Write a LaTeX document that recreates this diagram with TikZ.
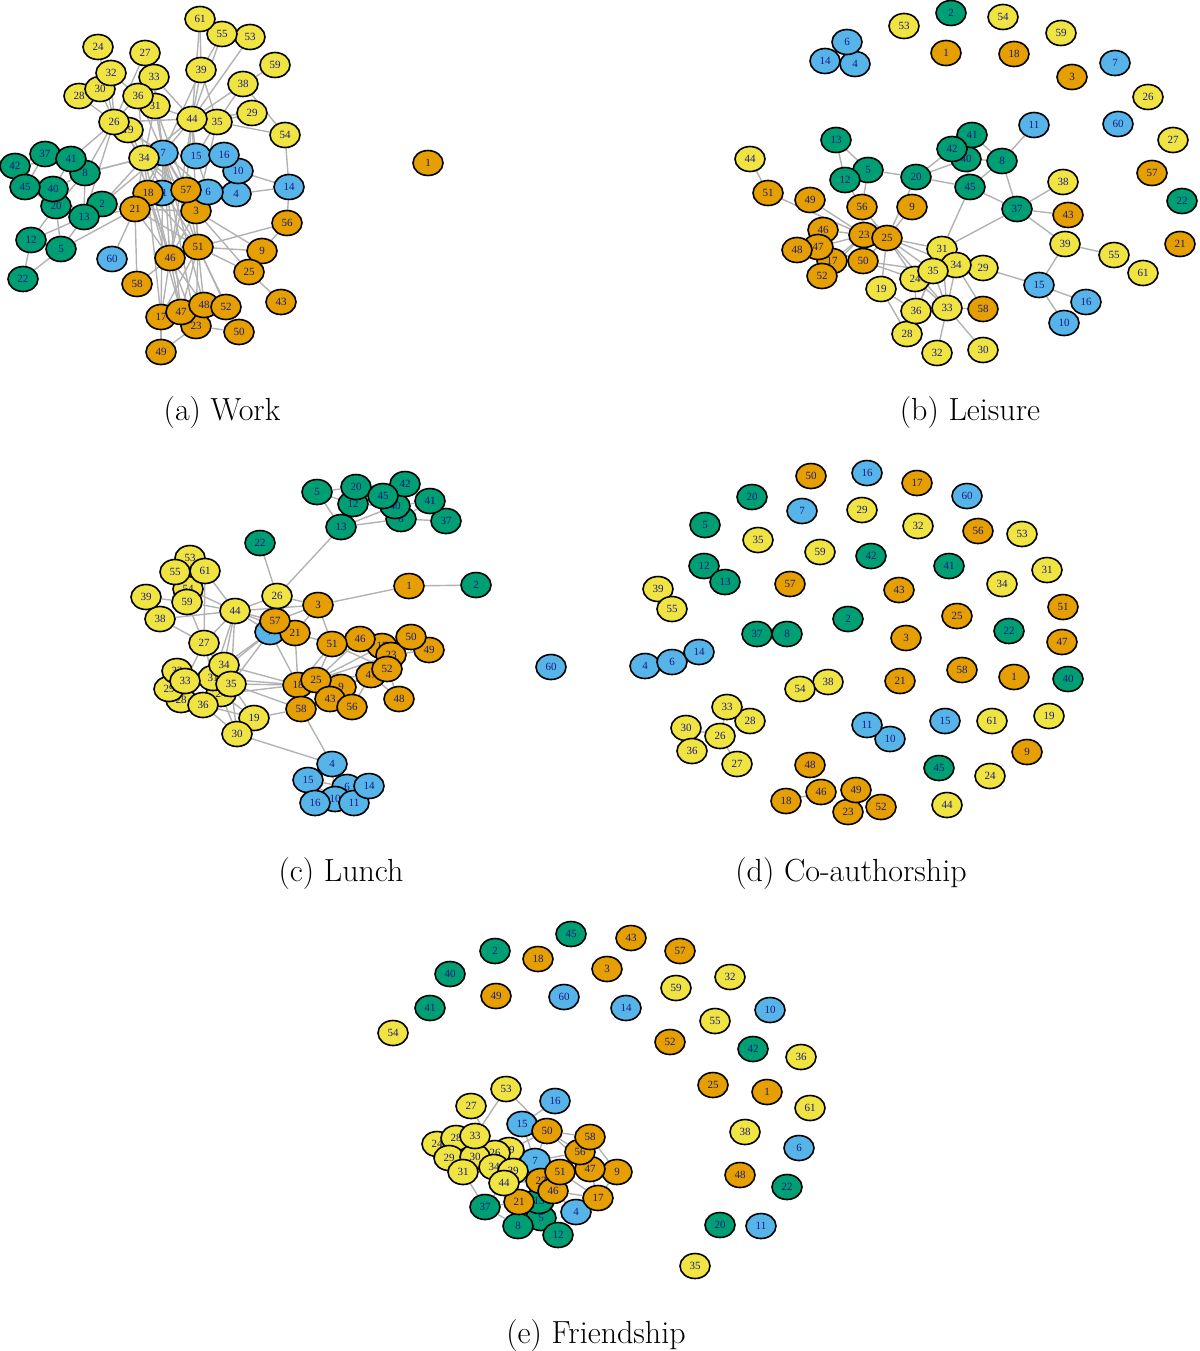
\documentclass[tikz,border=0pt]{standalone}
\usepackage{fontspec}
\usetikzlibrary{shapes.geometric}
\newfontfamily\lblfont{Liberation Serif}
\definecolor{cY}{HTML}{F0E442}
\definecolor{cO}{HTML}{E69F00}
\definecolor{cG}{HTML}{009E73}
\definecolor{cB}{HTML}{56B4E9}
\definecolor{lab}{RGB}{25,25,130}
\definecolor{edgec}{RGB}{178,178,178}
\pgfdeclarelayer{bg}
\pgfsetlayers{bg,main}
\tikzset{
 vtx/.style={ellipse, draw=black, line width=0.8pt, minimum width=15pt, minimum height=12.5pt, inner sep=0pt, text=lab, font=\lblfont\fontsize{5.5}{6}\selectfont},
 Y/.style={fill=cY}, O/.style={fill=cO}, G/.style={fill=cG}, B/.style={fill=cB},
 lnk/.style={draw=edgec, line width=0.7pt},
 captxt/.style={font=\fontsize{16}{19}\selectfont}
}
\begin{document}
\begin{tikzpicture}[x=0.5pt,y=-0.5pt]
\useasboundingbox (0,0) rectangle (1200,1351);
% ---------------- panel a
\foreach \n/\x/\y/\k in {1/428/163/O, 2/102/204/G, 3/196/211/O, 4/236/194/B, 5/61/249/G, 6/208/192/B, 7/163/153/B, 8/85/173/G, 9/262/251/O, 10/238/171/B, 11/162/193/B, 12/31/240/G, 13/84/217/G, 14/289/187/B, 15/196/156/B, 16/224/155/B, 17/161/317/O, 18/148/193/O, 19/128/130/Y, 20/56/206/G, 21/135/209/O, 22/23/279/G, 23/196/326/O, 24/98/47/Y, 25/249/272/O, 26/114/122/Y, 27/145/53/Y, 28/79/96/Y, 29/252/113/Y, 30/100/89/Y, 31/155/106/Y, 32/111/73/Y, 33/154/77/Y, 34/144/158/Y, 35/217/122/Y, 36/138/96/Y, 37/45/154/G, 38/243/84/Y, 39/201/70/Y, 40/53/189/G, 41/71/159/G, 42/15/166/G, 43/281/302/O, 44/192/119/Y, 45/25/187/G, 46/170/258/O, 47/181/312/O, 48/204/305/O, 49/161/352/O, 50/239/332/O, 51/198/247/O, 52/226/307/O, 53/250/37/Y, 54/285/135/Y, 55/222/34/Y, 56/287/223/O, 57/186/190/O, 58/137/284/O, 59/275/65/Y, 60/112/259/B, 61/200/19/Y}
  \node[vtx,\k] (a\n) at (\x,\y) {\n};
\begin{pgfonlayer}{bg}
\foreach \u/\w in {61/39, 61/44, 55/39, 55/44, 53/44, 24/26, 27/33, 27/26, 32/30, 32/36, 32/26, 30/28, 30/26, 28/26, 33/36, 33/31, 33/44, 33/7, 36/31, 36/26, 36/34, 36/7, 31/44, 31/7, 31/34, 31/57, 39/44, 39/7, 39/35, 38/44, 38/59, 38/54, 38/35, 29/44, 29/35, 44/35, 44/7, 44/15, 44/34, 44/26, 44/57, 44/51, 44/46, 35/54, 35/15, 35/3, 54/14, 26/19, 26/34, 26/7, 26/41, 26/8, 26/13, 19/34, 19/7, 19/46, 37/41, 37/42, 37/45, 37/8, 41/8, 41/40, 41/42, 42/45, 42/40, 45/40, 45/20, 40/20, 40/8, 40/13, 8/20, 8/13, 8/34, 8/7, 20/13, 20/12, 20/5, 13/2, 13/12, 13/5, 13/21, 2/7, 2/21, 2/34, 12/5, 12/22, 5/22, 5/21, 34/7, 34/18, 34/21, 34/46, 34/51, 34/3, 34/57, 7/15, 7/6, 7/57, 7/11, 7/18, 7/3, 7/51, 7/46, 7/47, 7/17, 7/48, 7/23, 7/21, 15/16, 15/6, 16/10, 10/4, 10/14, 6/4, 4/14, 6/57, 6/3, 14/56, 56/9, 56/51, 3/51, 3/46, 3/9, 3/25, 3/21, 57/51, 57/46, 57/3, 18/46, 18/21, 18/51, 18/47, 18/17, 21/60, 21/58, 21/46, 21/51, 51/46, 51/9, 51/25, 51/48, 51/52, 51/47, 51/23, 51/17, 51/50, 9/25, 25/43, 46/58, 46/17, 46/47, 46/48, 46/23, 17/47, 17/49, 47/48, 47/23, 48/52, 48/23, 23/50, 23/49}
  \draw[lnk] (a\u) -- (a\w);
\end{pgfonlayer}
% ---------------- panel b
\foreach \n/\x/\y/\k in {1/946/53/O, 2/951/13/G, 3/1072/77/O, 4/855/64/B, 5/868/170/G, 6/847/42/B, 7/1115/63/B, 8/1002/161/G, 9/912/207/O, 10/1064/323/B, 11/1034/125/B, 12/845/180/G, 13/836/140/G, 14/825/61/B, 15/1039/285/B, 16/1086/302/B, 17/832/261/O, 18/1014/54/O, 19/881/289/Y, 20/916/177/G, 21/1180/244/O, 22/1182/201/G, 23/864/235/O, 24/915/279/Y, 25/887/238/O, 26/1148/97/Y, 27/1173/140/Y, 28/907/334/Y, 29/983/268/Y, 30/983/350/Y, 31/942/249/Y, 32/937/353/Y, 33/947/308/Y, 34/956/265/Y, 35/933/271/Y, 36/916/311/Y, 37/1017/209/G, 38/1063/182/Y, 39/1065/244/Y, 40/966/159/G, 41/972/135/G, 42/952/149/G, 43/1068/215/O, 44/750/159/Y, 45/970/187/G, 46/823/230/O, 47/818/247/O, 48/797/250/O, 49/810/200/O, 50/863/261/O, 51/768/193/O, 52/822/276/O, 53/904/26/Y, 54/1003/17/Y, 55/1114/255/Y, 56/862/207/O, 57/1152/173/O, 58/983/309/O, 59/1061/33/Y, 60/1118/124/B, 61/1143/273/Y}
  \node[vtx,\k] (b\n) at (\x,\y) {\n};
\begin{pgfonlayer}{bg}
\foreach \u/\w in {14/4, 6/4, 13/5, 13/12, 5/12, 5/20, 5/56, 12/56, 20/42, 20/40, 20/45, 20/25, 42/41, 42/40, 40/41, 40/45, 40/8, 41/8, 8/45, 8/11, 8/37, 45/37, 45/31, 37/31, 37/38, 37/43, 37/39, 39/55, 39/15, 15/16, 15/10, 15/29, 44/51, 51/23, 49/23, 56/23, 56/25, 9/25, 46/23, 46/47, 46/48, 47/23, 47/48, 47/17, 48/17, 52/17, 52/23, 17/23, 50/23, 47/50, 23/25, 25/50, 25/31, 25/35, 25/34, 25/24, 25/19, 25/33, 50/35, 50/24, 35/34, 35/31, 35/24, 35/33, 35/36, 34/33, 34/31, 24/33, 33/36, 33/32, 33/30, 33/58, 19/28, 19/36, 36/28, 31/33, 34/29, 24/36, 35/28, 34/58}
  \draw[lnk] (b\u) -- (b\w);
\end{pgfonlayer}
% ---------------- panel c
\foreach \n/\x/\y/\k in {1/409/586/O, 2/476/585/G, 3/318/605/O, 4/332/764/B, 5/317/492/G, 6/347/787/B, 7/270/632/B, 8/401/519/G, 9/341/687/O, 10/335/799/B, 11/354/803/B, 12/353/504/G, 13/341/527/G, 14/369/786/B, 15/308/780/B, 16/315/803/B, 17/382/646/O, 18/298/685/O, 19/254/718/Y, 20/356/487/G, 21/295/633/O, 22/260/543/G, 23/391/655/O, 24/221/694/Y, 25/316/680/O, 26/277/596/Y, 27/204/643/Y, 28/181/700/Y, 29/169/689/Y, 30/237/734/Y, 31/213/678/Y, 32/177/671/Y, 33/185/681/Y, 34/224/665/Y, 35/231/684/Y, 36/203/705/Y, 37/446/521/G, 38/160/619/Y, 39/146/597/Y, 40/395/506/G, 41/430/501/G, 42/405/484/G, 43/330/699/O, 44/235/611/Y, 45/383/496/G, 46/360/639/O, 47/371/675/O, 48/399/699/O, 49/429/650/O, 50/411/637/O, 51/332/644/O, 52/387/669/O, 53/190/558/Y, 54/188/589/Y, 55/175/572/Y, 56/352/707/O, 57/275/621/O, 58/301/709/O, 59/187/602/Y, 60/551/667/B, 61/205/571/Y}
  \node[vtx,\k] (c\n) at (\x,\y) {\n};
\begin{pgfonlayer}{bg}
\foreach \u/\w in {5/12, 5/13, 5/20, 20/12, 20/45, 20/42, 45/42, 45/40, 45/12, 42/41, 40/8, 40/41, 41/37, 8/37, 13/12, 13/8, 13/40, 12/40, 41/8, 42/37, 13/26, 22/26, 1/3, 1/2, 3/26, 3/57, 3/21, 3/51, 3/44, 44/26, 44/38, 44/59, 44/54, 44/61, 44/27, 44/7, 44/57, 44/21, 44/34, 44/31, 55/61, 53/61, 54/61, 61/27, 59/27, 39/59, 38/27, 27/34, 27/31, 27/33, 27/35, 26/7, 26/57, 26/21, 57/21, 21/51, 21/18, 7/18, 7/34, 7/35, 7/31, 44/35, 35/18, 31/18, 34/18, 24/18, 35/58, 18/25, 18/58, 18/51, 25/51, 25/46, 25/17, 25/9, 25/43, 25/47, 25/23, 51/46, 51/17, 51/23, 51/52, 46/17, 46/23, 17/23, 17/50, 50/49, 23/49, 23/50, 47/52, 52/23, 48/52, 48/47, 56/43, 56/47, 43/9, 9/52, 58/19, 58/4, 19/35, 19/36, 19/24, 30/36, 30/24, 30/4, 30/35, 32/33, 29/28, 33/36, 33/31, 28/36, 29/33, 24/36, 31/35, 34/35, 4/15, 4/6, 4/10, 15/16, 15/6, 15/10, 6/14, 6/10, 10/11, 16/10, 14/11, 6/11}
  \draw[lnk] (c\u) -- (c\w);
\end{pgfonlayer}
% ---------------- panel d
\foreach \n/\x/\y/\k in {1/1014/677/O, 2/848/619/G, 3/906/638/O, 4/645/666/B, 5/705/525/G, 6/672/662/B, 7/802/511/B, 8/787/634/G, 9/1027/752/O, 10/890/739/B, 11/867/725/B, 12/704/566/G, 13/725/582/G, 14/699/652/B, 15/945/721/B, 16/867/473/B, 17/917/483/O, 18/786/801/O, 19/1049/716/Y, 20/752/497/G, 21/900/681/O, 22/1009/631/G, 23/848/812/O, 24/990/776/Y, 25/957/616/O, 26/720/736/Y, 27/737/764/Y, 28/750/721/Y, 29/862/510/Y, 30/686/728/Y, 31/1047/570/Y, 32/918/526/Y, 33/727/707/Y, 34/1002/584/Y, 35/758/540/Y, 36/692/751/Y, 37/757/634/G, 38/828/682/Y, 39/658/589/Y, 40/1068/679/G, 41/949/566/G, 42/871/556/G, 43/899/590/O, 44/947/805/Y, 45/939/768/G, 46/821/792/O, 47/1062/642/O, 48/810/765/O, 49/856/790/O, 50/811/476/O, 51/1063/607/O, 52/881/807/O, 53/1022/534/Y, 54/800/689/Y, 55/672/609/Y, 56/978/531/O, 57/790/584/O, 58/962/670/O, 59/820/552/Y, 60/967/496/B, 61/992/721/Y}
  \node[vtx,\k] (d\n) at (\x,\y) {\n};
\begin{pgfonlayer}{bg}
\foreach \u/\w in {26/30, 26/33, 26/27, 18/46}
  \draw[lnk] (d\u) -- (d\w);
\end{pgfonlayer}
% ---------------- panel e
\foreach \n/\x/\y/\k in {1/767/1092/O, 2/495/951/G, 3/607/969/O, 4/576/1212/B, 5/541/1218/G, 6/799/1148/B, 7/535/1161/B, 8/518/1226/G, 9/617/1172/O, 10/770/1010/B, 11/761/1226/B, 12/558/1235/G, 13/539/1201/G, 14/626/1008/B, 15/522/1124/B, 16/555/1101/B, 17/598/1198/O, 18/538/959/O, 19/509/1150/Y, 20/720/1225/G, 21/519/1202/O, 22/787/1187/G, 23/541/1181/O, 24/437/1144/Y, 25/713/1085/O, 26/495/1153/Y, 27/471/1106/Y, 28/456/1138/Y, 29/449/1158/Y, 30/475/1157/Y, 31/463/1172/Y, 32/730/977/Y, 33/475/1136/Y, 34/494/1167/Y, 35/695/1266/Y, 36/801/1057/Y, 37/485/1207/G, 38/745/1132/Y, 39/513/1171/Y, 40/450/974/G, 41/430/1008/G, 42/753/1049/G, 43/631/938/O, 44/504/1183/Y, 45/571/934/G, 46/553/1191/O, 47/590/1169/O, 48/740/1175/O, 49/496/996/O, 50/547/1131/O, 51/560/1172/O, 52/670/1042/O, 53/506/1089/Y, 54/393/1033/Y, 55/715/1021/Y, 56/580/1152/O, 57/680/951/O, 58/590/1137/O, 59/676/988/Y, 60/564/997/B, 61/810/1108/Y}
  \node[vtx,\k] (e\n) at (\x,\y) {\n};
\begin{pgfonlayer}{bg}
\foreach \u/\w in {53/33, 53/50, 27/26, 16/15, 15/50, 15/7, 50/58, 50/56, 50/7, 50/19, 19/7, 39/7, 7/51, 7/56, 58/56, 58/9, 56/47, 56/51, 47/9, 47/17, 47/51, 51/46, 51/23, 46/17, 46/4, 17/4, 23/21, 23/13, 13/5, 5/8, 5/12, 21/8, 21/37, 37/31, 37/44, 44/39, 34/39, 30/26, 28/33, 24/29, 29/30, 31/30, 26/19, 33/30, 44/23, 39/23, 34/44, 8/37, 26/34, 31/34, 46/13, 9/17, 51/17, 7/23, 23/46, 21/44, 21/5, 50/47, 58/47, 28/29, 24/28, 33/19, 30/34, 56/9}
  \draw[lnk] (e\u) -- (e\w);
\end{pgfonlayer}
% ---------------- captions
\node[captxt] (capa) at (222,413) {(a) Work};
\node[captxt] (capb) at (970,413) {(b) Leisure};
\node[captxt] (capc) at (341,874) {(c) Lunch};
\node[captxt] (capd) at (851,874) {(d) Co-authorship};
\node[captxt] (cape) at (596,1335) {(e) Friendship};
\end{tikzpicture}
\end{document}
